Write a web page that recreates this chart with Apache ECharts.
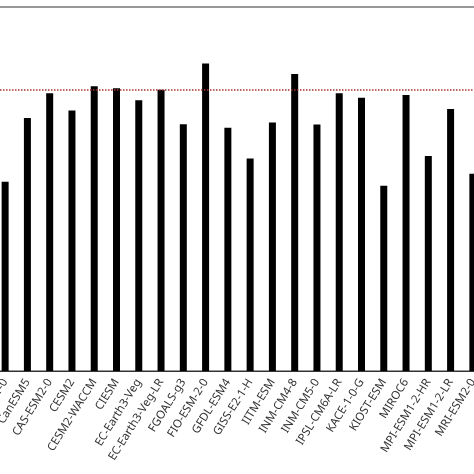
<!DOCTYPE html>
<html>
<head>
<meta charset="utf-8">
<script src="https://cdn.jsdelivr.net/npm/echarts@6/dist/echarts.min.js"></script>
<style>html,body{margin:0;padding:0;background:#fff}#c{width:474px;height:474px}</style>
</head>
<body>
<div id="c"></div>
<script>
const models = ["CAMS-CSM1-0","CanESM5","CAS-ESM2-0","CESM2","CESM2-WACCM","CIESM","EC-Earth3-Veg","EC-Earth3-Veg-LR","FGOALS-g3","FIO-ESM-2-0","GFDL-ESM4","GISS-E2-1-H","IITM-ESM","INM-CM4-8","INM-CM5-0","IPSL-CM6A-LR","KACE-1-0-G","KIOST-ESM","MIROC6","MPI-ESM1-2-HR","MPI-ESM1-2-LR","MRI-ESM2-0"];
const values = [52.0,69.5,76.3,71.6,78.2,77.7,74.4,77.3,67.8,84.5,66.8,58.4,68.3,81.6,67.7,76.3,75.1,50.9,75.8,59.1,72.0,54.2];
const reference = 77.2;

const chart = echarts.init(document.getElementById('c'), null, {renderer:'canvas'});
chart.setOption({
  animation:false,
  backgroundColor:'#fff',
  grid:{left:-6, right:-10, top:7, bottom:103, show:true, borderColor:'#333', borderWidth:1, containLabel:false, outerBoundsMode:'none'},
  xAxis:{
    type:'category', data:models,
    axisLine:{lineStyle:{color:'#333', width:1}},
    axisTick:{show:false},
    axisLabel:{interval:0, rotate:58, fontSize:11.5, fontFamily:'Noto Sans', color:'#333', margin:9}
  },
  yAxis:{type:'value', min:0, max:100, show:false, splitLine:{show:false}},
  series:[{
    type:'bar', data:values, barWidth:7, itemStyle:{color:'#000'},
    markLine:{silent:true, symbol:'none', label:{show:false},
      lineStyle:{type:'dotted', color:'#a8322d', width:1.5},
      data:[{yAxis:reference}]}
  }]
});
</script>
</body>
</html>
